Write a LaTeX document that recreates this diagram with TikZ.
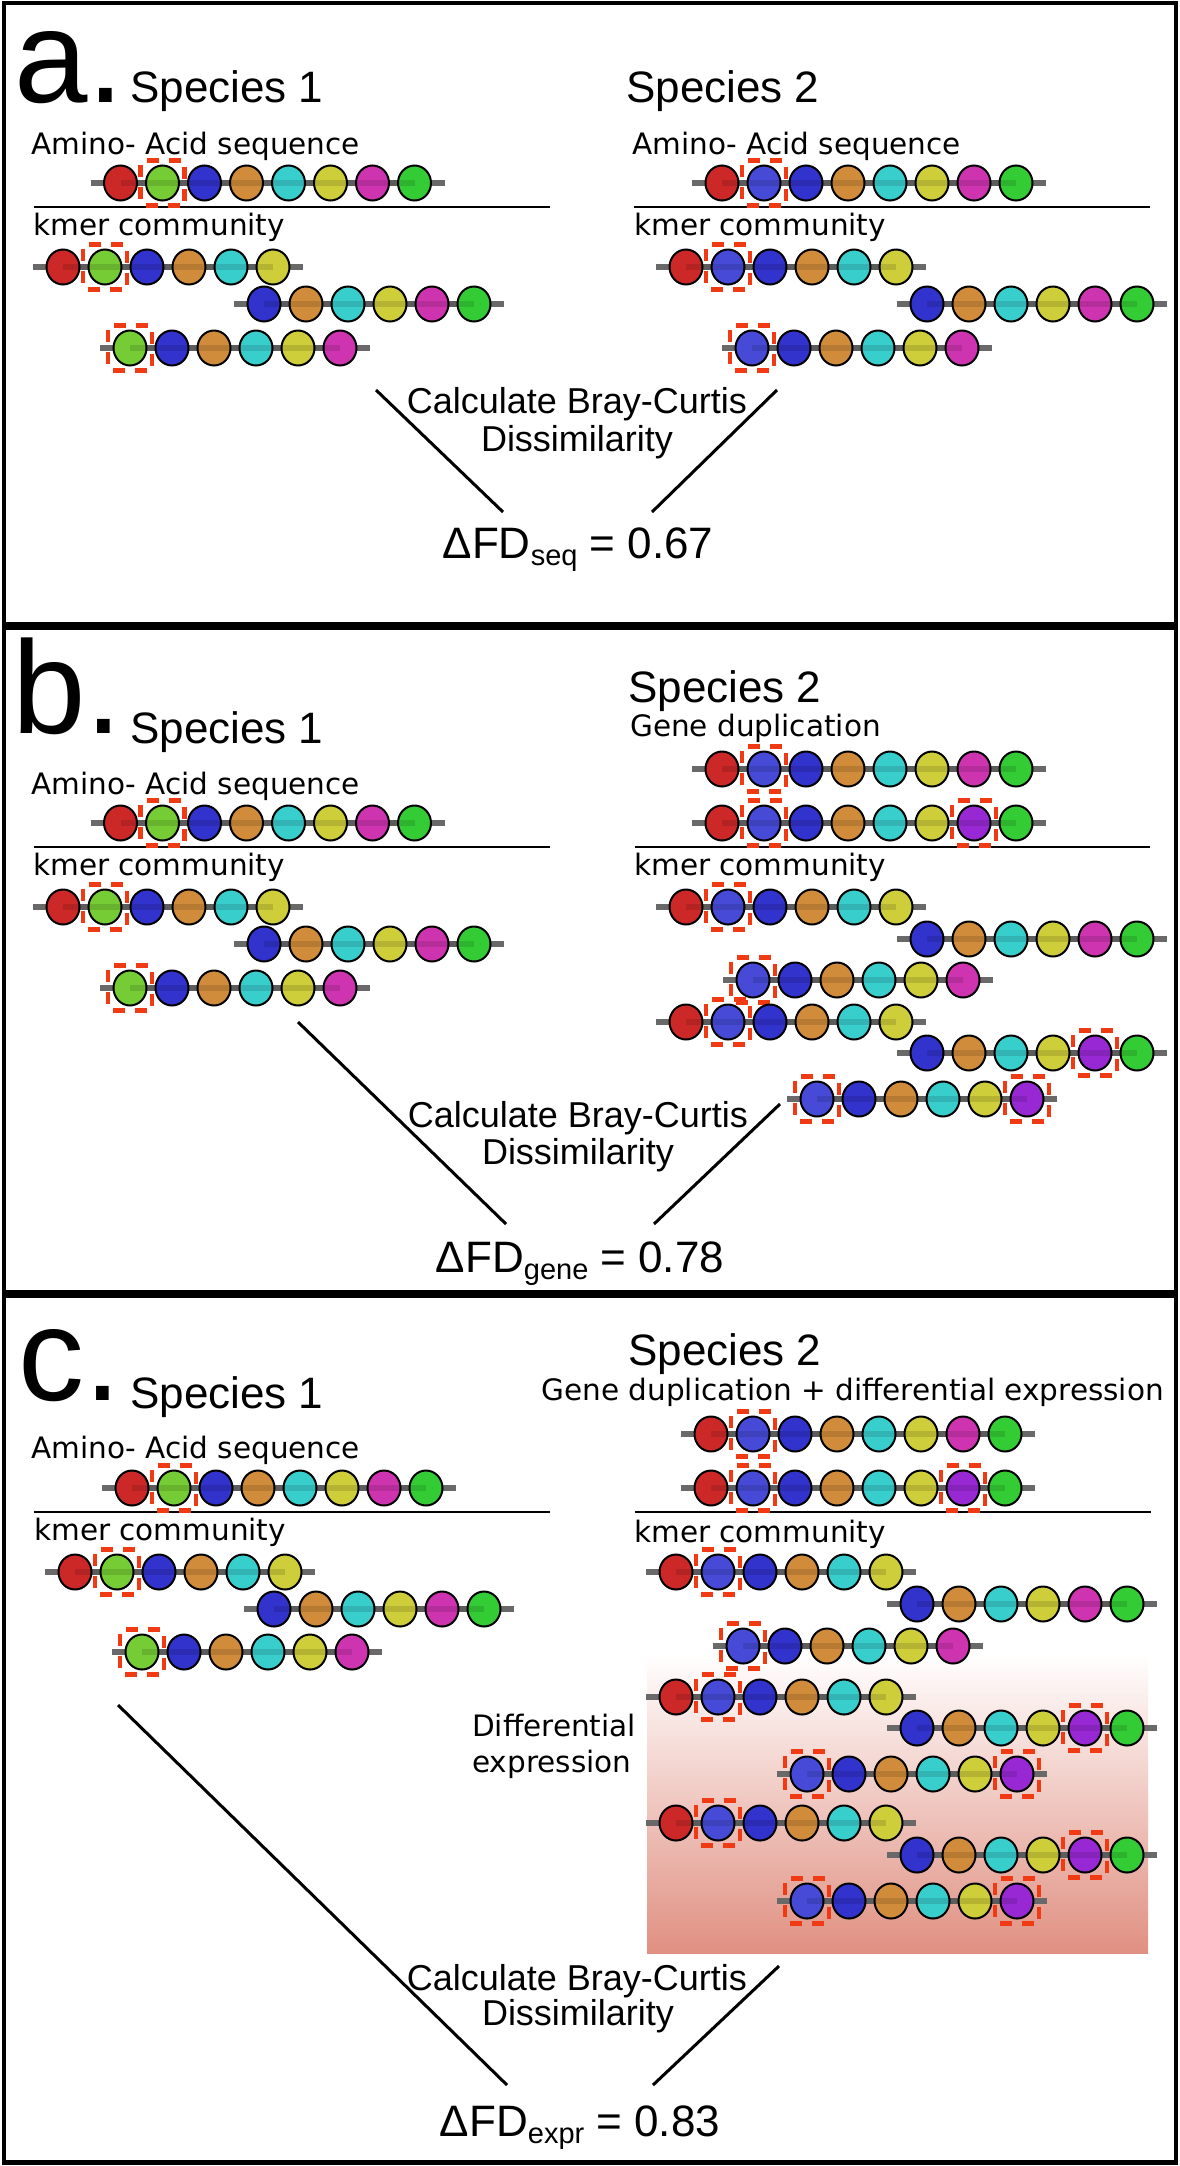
\documentclass[tikz,border=0pt]{standalone}
\usepackage{fontspec}
\setmainfont{Liberation Sans}
\newfontfamily\vfont{DejaVu Sans}
\usetikzlibrary{shapes.geometric}
\definecolor{cRed}{RGB}{204,40,40}
\definecolor{cLime}{RGB}{118,204,52}
\definecolor{cBlue}{RGB}{50,50,204}
\definecolor{cBlueB}{RGB}{70,74,214}
\definecolor{cOrange}{RGB}{208,140,58}
\definecolor{cCyan}{RGB}{56,206,204}
\definecolor{cYellow}{RGB}{206,206,58}
\definecolor{cMagenta}{RGB}{206,52,176}
\definecolor{cGreen}{RGB}{52,204,52}
\definecolor{cPurple}{RGB}{152,40,212}
\definecolor{hlred}{RGB}{240,58,20}
\definecolor{salmon}{RGB}{224,144,130}
\definecolor{bbgray}{RGB}{105,105,105}
\def\Sone{cRed,cLime,cBlue,cOrange,cCyan,cYellow,cMagenta,cGreen}
\def\Stwo{cRed,cBlueB,cBlue,cOrange,cCyan,cYellow,cMagenta,cGreen}
\def\StwoP{cRed,cBlueB,cBlue,cOrange,cCyan,cYellow,cPurple,cGreen}
\def\Kone{cRed,cLime,cBlue,cOrange,cCyan,cYellow}
\def\Ktwo{cBlue,cOrange,cCyan,cYellow,cMagenta,cGreen}
\def\Kthree{cLime,cBlue,cOrange,cCyan,cYellow,cMagenta}
\def\Qone{cRed,cBlueB,cBlue,cOrange,cCyan,cYellow}
\def\Qthree{cBlueB,cBlue,cOrange,cCyan,cYellow,cMagenta}
\def\Qfive{cBlue,cOrange,cCyan,cYellow,cPurple,cGreen}
\def\Qsix{cBlueB,cBlue,cOrange,cCyan,cYellow,cPurple}
\newcommand{\fsBig}{\fontsize{132}{132}\selectfont}
\newcommand{\fsSp}{\fontsize{44}{44}\selectfont}
\newcommand{\fsV}{\vfont\fontsize{29.5}{30}\selectfont}
\newcommand{\fsCalc}{\fontsize{36}{36}\selectfont}
\newcommand{\fsSub}{\fontsize{29}{29}\selectfont}
\newcommand{\kchain}[5]{%
  \coordinate (#1-L) at ({#2-30},{#3});
  \coordinate (#1-R) at ({#2+(#4-1)*42+30},{#3});
  \draw[backbone] (#1-L) -- (#1-R);
  \foreach \cc [count=\i] in #5 {
    \node[bead, fill=\cc] (#1-\i) at ({#2+(\i-1)*42},{#3}) {};
  }
  \draw[band] (#1-1.center) -- (#1-#4.center);
}
\newcommand{\hlb}[2]{\node[hlbox] (#1-h#2) at (#1-#2) {};}
\begin{document}
\begin{tikzpicture}[x=1pt,y=-1pt,
 bead/.style={ellipse, draw=black, line width=2pt, minimum width=33pt, minimum height=35pt, inner sep=0pt},
 backbone/.style={draw=bbgray, line width=6.5pt},
 band/.style={draw=black, opacity=0.12, line width=6.5pt},
 hlbox/.style={rectangle, draw=hlred, line width=4.5pt, dash pattern=on 12pt off 10pt, dash phase=17pt, minimum width=44pt, minimum height=45pt, inner sep=0pt},
 frame/.style={draw=black, line width=4.5pt},
 divider/.style={draw=black, line width=2pt},
 bray/.style={draw=black, line width=3pt},
 lbl/.style={inner sep=0pt, anchor=base west},
 ctr/.style={inner sep=0pt, anchor=base}]
\useasboundingbox (0,0) rectangle (1180,2166);
\fill[white] (0,0) rectangle (1180,2166);
% frames
\draw[frame] (4,3) rectangle (1176,624.5);
\draw[frame] (4,628) rectangle (1176,1292.5);
\draw[frame] (4,1296) rectangle (1176,2162.5);
% gradient in panel c
\fill[top color=white, bottom color=salmon] (647,1653) rectangle (1148,1953);

% ================= panel a
\node[lbl] (aLetter) at (14,102) {\fsBig a.};
\node[lbl] (aSp1) at (130,102) {\fsSp Species 1};
\node[lbl] (aSp2) at (626,102) {\fsSp Species 2};
\node[lbl] (aAA1) at (31,154) {\fsV Amino- Acid sequence};
\node[lbl] (aAA2) at (632,154) {\fsV Amino- Acid sequence};
\draw[divider] (34,207) -- (550,207);
\draw[divider] (634,207) -- (1150,207);
\node[lbl] (aKm1) at (33,235) {\fsV kmer community};
\node[lbl] (aKm2) at (634,235) {\fsV kmer community};
\kchain{a1s}{120.5}{183}{8}{\Sone} \hlb{a1s}{2}
\kchain{a1k1}{63}{267}{6}{\Kone} \hlb{a1k1}{2}
\kchain{a1k2}{264}{304}{6}{\Ktwo}
\kchain{a1k3}{130}{348}{6}{\Kthree} \hlb{a1k3}{1}
\kchain{a2s}{722}{183}{8}{\Stwo} \hlb{a2s}{2}
\kchain{a2k1}{686}{267}{6}{\Qone} \hlb{a2k1}{2}
\kchain{a2k2}{927}{304}{6}{\Ktwo}
\kchain{a2k3}{752}{348}{6}{\Qthree} \hlb{a2k3}{1}
\node[ctr] (aCalc) at (577,413) {\fsCalc Calculate Bray-Curtis};
\node[ctr] (aDis) at (577,451) {\fsCalc Dissimilarity};
\node[ctr] (aDFD) at (578,558) {\fsSp ΔFD\raisebox{-7pt}{\fsSub seq} = 0.67};
\coordinate (aL1) at (376,390); \coordinate (aL2) at (503,512);
\coordinate (aR1) at (777,390); \coordinate (aR2) at (652,512);
\draw[bray] (aL1) -- (aL2);
\draw[bray] (aR1) -- (aR2);

% ================= panel b
\node[lbl] (bLetter) at (12,733) {\fsBig b.};
\node[lbl] (bSp1) at (130,743) {\fsSp Species 1};
\node[lbl] (bSp2) at (628,702) {\fsSp Species 2};
\node[lbl] (bGD) at (630,736) {\fsV Gene duplication};
\node[lbl] (bAA1) at (31,794) {\fsV Amino- Acid sequence};
\draw[divider] (34,847) -- (550,847);
\draw[divider] (635,847) -- (1150,847);
\node[lbl] (bKm1) at (33,875) {\fsV kmer community};
\node[lbl] (bKm2) at (634,875) {\fsV kmer community};
\kchain{b1s}{120.5}{823}{8}{\Sone} \hlb{b1s}{2}
\kchain{b1k1}{63}{907}{6}{\Kone} \hlb{b1k1}{2}
\kchain{b1k2}{264}{944}{6}{\Ktwo}
\kchain{b1k3}{130}{988}{6}{\Kthree} \hlb{b1k3}{1}
\kchain{b2s1}{722}{769}{8}{\Stwo} \hlb{b2s1}{2}
\kchain{b2s2}{722}{823}{8}{\StwoP} \hlb{b2s2}{2} \hlb{b2s2}{7}
\kchain{b2k1}{686}{907}{6}{\Qone} \hlb{b2k1}{2}
\kchain{b2k2}{927}{939}{6}{\Ktwo}
\kchain{b2k3}{753}{980}{6}{\Qthree} \hlb{b2k3}{1}
\kchain{b2k4}{686}{1022}{6}{\Qone} \hlb{b2k4}{2}
\kchain{b2k5}{927}{1053}{6}{\Qfive} \hlb{b2k5}{5}
\kchain{b2k6}{817}{1099}{6}{\Qsix} \hlb{b2k6}{1} \hlb{b2k6}{6}
\node[ctr] (bCalc) at (578,1127) {\fsCalc Calculate Bray-Curtis};
\node[ctr] (bDis) at (578,1164) {\fsCalc Dissimilarity};
\node[ctr] (bDFD) at (580,1272) {\fsSp ΔFD\raisebox{-7pt}{\fsSub gene} = 0.78};
\coordinate (bL1) at (298,1022); \coordinate (bL2) at (506,1224);
\coordinate (bR1) at (780,1104); \coordinate (bR2) at (654,1224);
\draw[bray] (bL1) -- (bL2);
\draw[bray] (bR1) -- (bR2);

% ================= panel c
\node[lbl] (cLetter) at (18,1400) {\fsBig c.};
\node[lbl] (cSp1) at (130,1408) {\fsSp Species 1};
\node[lbl] (cSp2) at (628,1365) {\fsSp Species 2};
\node[inner sep=0pt, anchor=base east] (cGD) at (1164,1400) {\fsV Gene duplication + differential expression};
\node[lbl] (cAA1) at (31,1458) {\fsV Amino- Acid sequence};
\draw[divider] (34,1512) -- (550,1512);
\draw[divider] (635,1512) -- (1151,1512);
\node[lbl] (cKm1) at (34,1540) {\fsV kmer community};
\node[lbl] (cKm2) at (634,1542) {\fsV kmer community};
\node[lbl] (cDiff1) at (472,1736) {\fsV Differential};
\node[lbl] (cDiff2) at (472,1772) {\fsV expression};
\kchain{c1s}{132}{1488}{8}{\Sone} \hlb{c1s}{2}
\kchain{c1k1}{75}{1572}{6}{\Kone} \hlb{c1k1}{2}
\kchain{c1k2}{274}{1609}{6}{\Ktwo}
\kchain{c1k3}{142}{1652}{6}{\Kthree} \hlb{c1k3}{1}
\kchain{c2s1}{711}{1434}{8}{\Stwo} \hlb{c2s1}{2}
\kchain{c2s2}{711}{1488}{8}{\StwoP} \hlb{c2s2}{2} \hlb{c2s2}{7}
\kchain{c2k1}{676}{1572}{6}{\Qone} \hlb{c2k1}{2}
\kchain{c2k2}{917}{1604}{6}{\Ktwo}
\kchain{c2k3}{743}{1646}{6}{\Qthree} \hlb{c2k3}{1}
\kchain{c2k4}{676}{1697}{6}{\Qone} \hlb{c2k4}{2}
\kchain{c2k5}{917}{1728}{6}{\Qfive} \hlb{c2k5}{5}
\kchain{c2k6}{807}{1774}{6}{\Qsix} \hlb{c2k6}{1} \hlb{c2k6}{6}
\kchain{c2k7}{676}{1823}{6}{\Qone} \hlb{c2k7}{2}
\kchain{c2k8}{917}{1855}{6}{\Qfive} \hlb{c2k8}{5}
\kchain{c2k9}{807}{1901}{6}{\Qsix} \hlb{c2k9}{1} \hlb{c2k9}{6}
\node[ctr] (cCalc) at (577,1990) {\fsCalc Calculate Bray-Curtis};
\node[ctr] (cDis) at (578,2025) {\fsCalc Dissimilarity};
\node[ctr] (cDFD) at (580,2136) {\fsSp ΔFD\raisebox{-7pt}{\fsSub expr} = 0.83};
\coordinate (cL1) at (118,1705); \coordinate (cL2) at (507,2085);
\coordinate (cR1) at (779,1966); \coordinate (cR2) at (653,2085);
\draw[bray] (cL1) -- (cL2);
\draw[bray] (cR1) -- (cR2);
\end{tikzpicture}
\end{document}
